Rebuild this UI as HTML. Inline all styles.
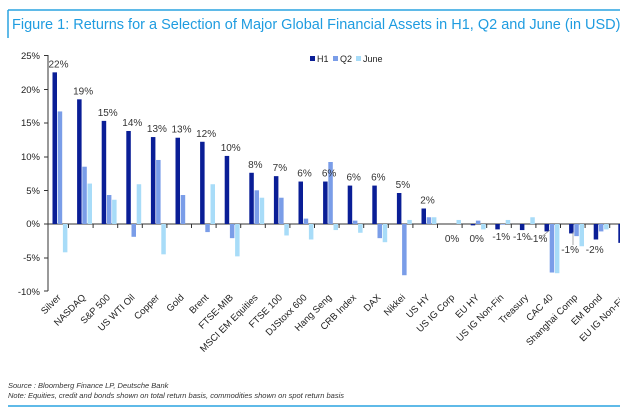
<!DOCTYPE html>
<html><head><meta charset="utf-8"><style>
body{margin:0;background:#fff;}
svg{display:block;font-family:"Liberation Sans",Arial,sans-serif;}
</style></head><body>
<svg width="620" height="413" viewBox="0 0 620 413" xmlns="http://www.w3.org/2000/svg">
<rect width="620" height="413" fill="#fff"/>
<line x1="8" y1="10" x2="620" y2="10" stroke="#2aa3e0" stroke-width="1.5"/>
<line x1="8" y1="10" x2="8" y2="38" stroke="#2aa3e0" stroke-width="1.5"/>
<text x="12" y="29" font-size="14.5" fill="#1f9ce0">Figure 1: Returns for a Selection of Major Global Financial Assets in H1, Q2 and June (in USD)</text>
<line x1="8" y1="406" x2="620" y2="406" stroke="#2aa3e0" stroke-width="1.5"/>
<text x="8" y="388" font-size="7.5" font-style="italic" fill="#333">Source : Bloomberg Finance LP, Deutsche Bank</text>
<text x="8" y="398" font-size="7.5" font-style="italic" fill="#333">Note: Equities, credit and bonds shown on total return basis, commodities shown on spot return basis</text>
<g font-size="9.5" fill="#222" text-anchor="end">
<text x="40" y="59">25%</text><text x="40" y="93">20%</text><text x="40" y="126">15%</text><text x="40" y="160">10%</text><text x="40" y="194">5%</text><text x="40" y="227">0%</text><text x="40" y="261">-5%</text><text x="40" y="295">-10%</text>
</g>
<g stroke="#333" stroke-width="1">
<line x1="48" y1="55" x2="48" y2="291"/>
<line x1="44" y1="55.5" x2="48" y2="55.5"/><line x1="44" y1="89.5" x2="48" y2="89.5"/><line x1="44" y1="123" x2="48" y2="123"/><line x1="44" y1="157" x2="48" y2="157"/><line x1="44" y1="190.5" x2="48" y2="190.5"/><line x1="44" y1="258" x2="48" y2="258"/><line x1="44" y1="291" x2="48" y2="291"/>
<line x1="44" y1="224" x2="620" y2="224"/>
</g>
<g font-size="9" fill="#222">
<rect x="310" y="56" width="5" height="5" fill="#0a1e96"/><text x="317" y="62">H1</text>
<rect x="333" y="56" width="5" height="5" fill="#7a9de8"/><text x="340" y="62">Q2</text>
<rect x="356" y="56" width="5" height="5" fill="#a8dcf8"/><text x="363" y="62">June</text>
</g>
<g id="bars"></g>
<g id="lbl" font-size="9.5" fill="#222"></g>
<g id="vl" font-size="10" fill="#333" text-anchor="middle"></g>
<line x1="540" y1="238" x2="550" y2="230" stroke="#888" stroke-width="0.7"/>
<line x1="573" y1="245" x2="573" y2="232" stroke="#888" stroke-width="0.7"/>
<script>
var d=[["Silver",22.5,16.7,-4.2,"22%"],["NASDAQ",18.5,8.5,6,"19%"],["S&P 500",15.3,4.3,3.6,"15%"],["US WTI Oil",13.8,-1.9,5.9,"14%"],["Copper",12.9,9.5,-4.5,"13%"],["Gold",12.8,4.3,0,"13%"],["Brent",12.2,-1.2,5.9,"12%"],["FTSE-MIB",10.1,-2.1,-4.8,"10%"],["MSCI EM Equities",7.6,5.0,3.9,"8%"],["FTSE 100",7.1,3.9,-1.7,"7%"],["DJStoxx 600",6.3,0.8,-2.3,"6%"],["Hang Seng",6.3,9.2,-0.9,"6%"],["CRB Index",5.7,0.5,-1.3,"6%"],["DAX",5.7,-2.1,-2.7,"6%"],["Nikkei",4.6,-7.6,0.6,"5%"],["US HY",2.3,1.0,1.0,"2%"],["US IG Corp",0,0,0.6,"0%"],["EU HY",-0.2,0.5,-0.8,"0%"],["US IG Non-Fin",-0.8,-0.1,0.6,"-1%"],["Treasury",-0.9,0,1.0,"-1%"],["CAC 40",-1.1,-7.2,-7.3,"-1%"],["Shanghai Comp",-1.4,-1.8,-3.3,"-1%"],["EM Bond",-2.3,-1.1,-0.8,"-2%"],["EU IG Non-Fin",-2.8,-1.5,-1.0,"-3%"]];
var ns="http://www.w3.org/2000/svg",cols=["#0a1e96","#7a9de8","#a8dcf8"],s=6.74,z=224;
var B=document.getElementById("bars"),L=document.getElementById("lbl"),V=document.getElementById("vl");
function el(t,a,p,txt){var e=document.createElementNS(ns,t);for(var k in a)e.setAttribute(k,a[k]);if(txt)e.textContent=txt;p.appendChild(e);}
d.forEach(function(r,i){var x=52.5+24.6*i;
for(var j=0;j<3;j++){var v=r[j+1];if(v==0)continue;var h=Math.abs(v)*s;el("rect",{x:x+j*5.2,y:v>0?z-h:z,width:4.5,height:h,fill:cols[j]},B);}
el("line",{x1:x+16,y1:224,x2:x+16,y2:228,stroke:"#333"},B);
var lx=x+6,ly=z+22;
if(r[1]>0.5){ly=z-r[1]*s-5;}
if(i==16)ly=z+18;if(i==17)ly=z+18;if(i==18||i==19)ly=z+16;if(i==20){lx=x-6;ly=z+18;}if(i==21){lx=x+1;ly=z+29;}if(i==22){lx=x+1;ly=z+29;}if(i==23){lx=x+22;ly=z+37;}
if(i==19)lx=x+2;
el("text",{x:lx,y:ly},V,r[4]);
var tx=x+9,ty=298;el("text",{x:tx,y:ty,"text-anchor":"end",transform:"rotate(-45 "+tx+" "+ty+")"},L,r[0]);
});
</script>
</svg>
</body></html>
